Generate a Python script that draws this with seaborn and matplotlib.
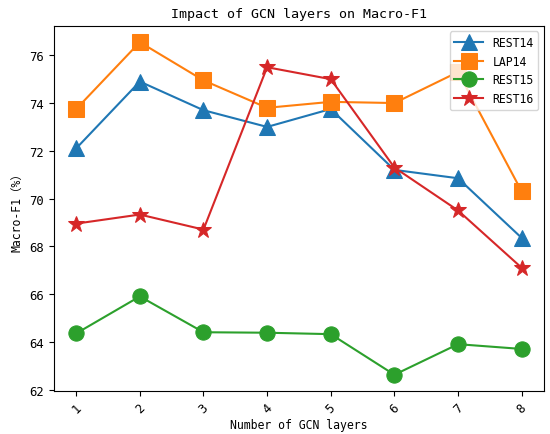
import numpy as np
import pandas as pd
import matplotlib
matplotlib.use('Agg')
import matplotlib.pyplot as plt
import seaborn as sns

# GCN 层数
layers = [1, 2, 3, 4, 5, 6, 7, 8]

# 各数据集 Macro-F1
rest14 = [72.1, 74.9, 73.7, 73.0, 73.75, 71.2, 70.85, 68.35]
lap14 = [73.75, 76.55, 74.95, 73.8, 74.05, 74.0, 75.3, 70.3]
rest15 = [64.35, 65.9, 64.4, 64.38, 64.32, 62.62, 63.9, 63.7]
rest16 = [68.95, 69.33, 68.7, 75.5, 75.0, 71.3, 69.5, 67.1]

names = ['REST14', 'LAP14', 'REST15', 'REST16']
markers = ['^', 's', 'o', '*']
colors = sns.color_palette('tab10', 4)

plt.rcParams['font.family'] = ['DejaVu Sans Mono', 'Noto Sans CJK SC']

fig, ax = plt.subplots(figsize=(5.5, 4.35), dpi=100)
fig.subplots_adjust(left=0.098, right=0.989, top=0.939, bottom=0.098)

for name, vals, m, c in zip(names, [rest14, lap14, rest15, rest16], markers, colors):
    df = pd.DataFrame({'layer': layers, 'f1': vals})
    sns.lineplot(data=df, x='layer', y='f1', marker=m, color=c, label=name,
                 markersize=11 if m != '*' else 12, markeredgecolor=c,
                 linewidth=1.5, ax=ax)

ax.set_xticks(layers)
ax.set_xticklabels([str(l) for l in layers], rotation=45)
ax.tick_params(labelsize=8.8)
ax.set_title('Impact of GCN layers on Macro-F1', fontsize=9.6)
ax.set_xlabel('Number of GCN layers', fontsize=8.3, labelpad=2)
ax.set_ylabel('Macro-F1（%）', fontsize=8.3)
ax.legend(loc='upper right', fontsize=8.3, handlelength=2.5)

fig.savefig('out.png', dpi=100)
